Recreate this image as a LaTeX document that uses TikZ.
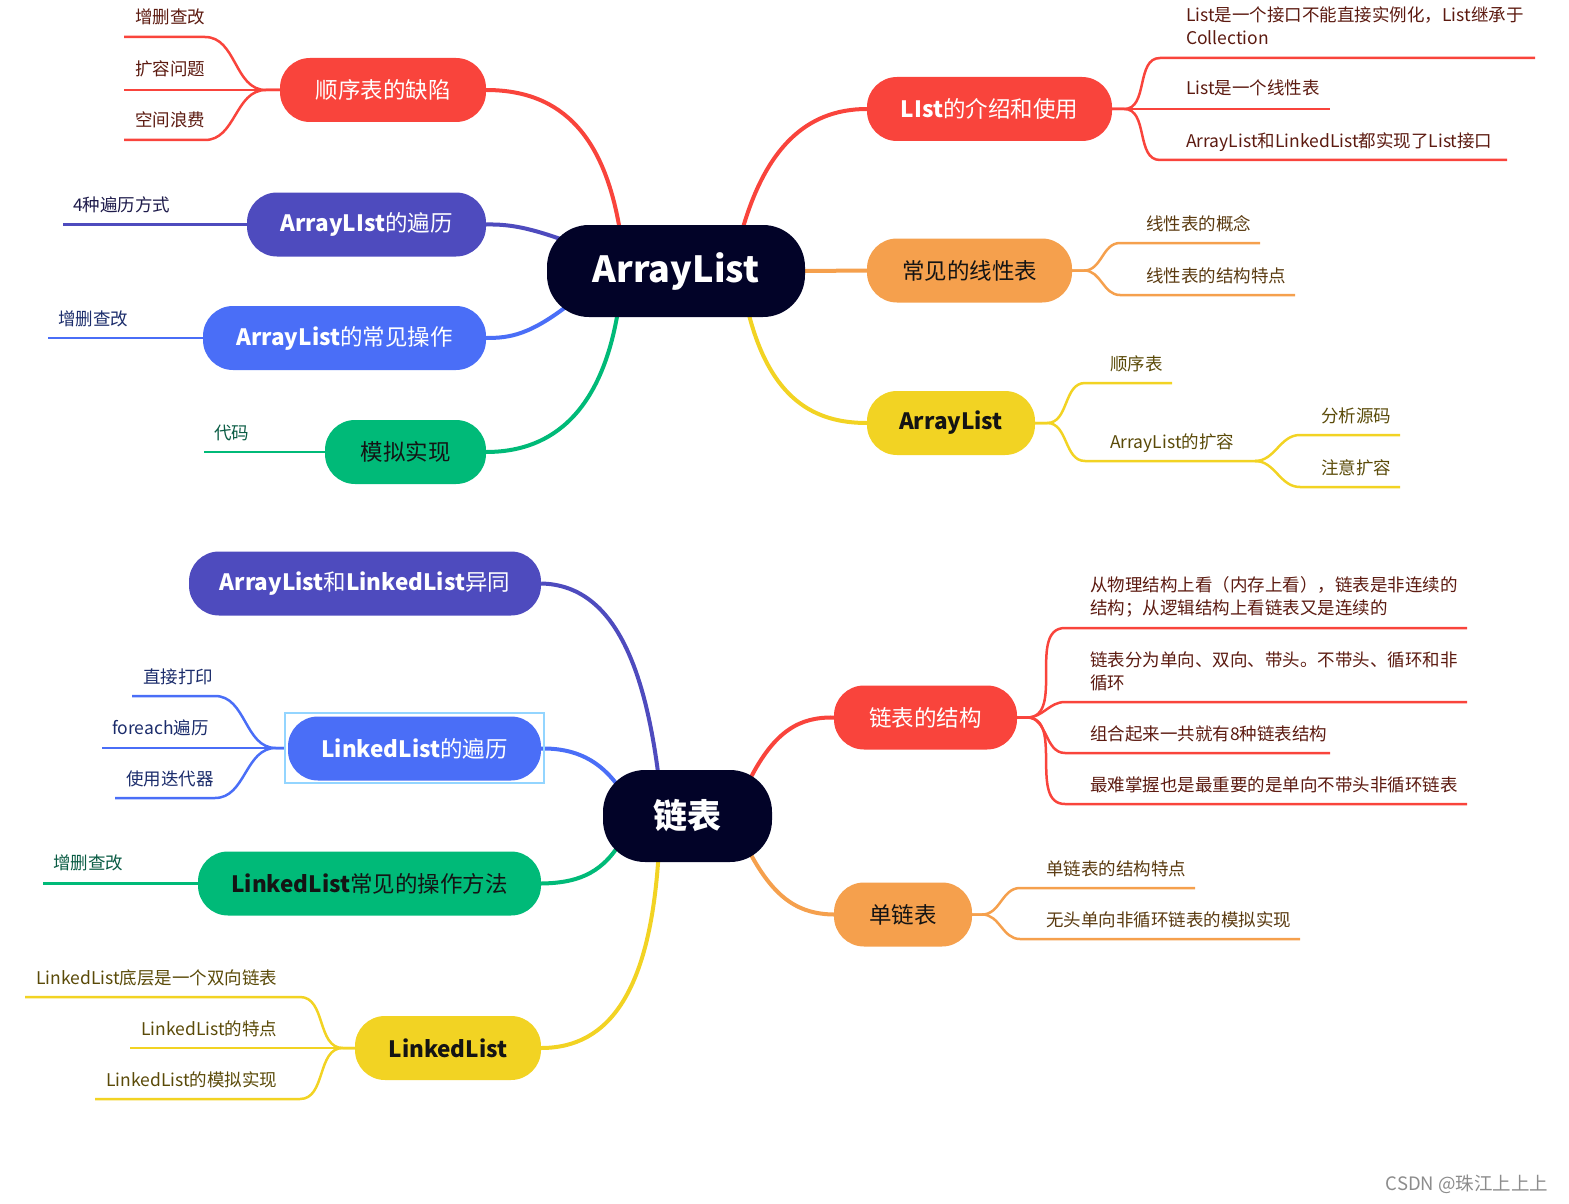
\documentclass[tikz,border=0pt]{standalone}
\usepackage{fontspec}
\setmainfont{Noto Sans CJK SC}
\usetikzlibrary{calc,backgrounds}
\definecolor{cred}{HTML}{F9443C}
\definecolor{cpur}{HTML}{4E4BBE}
\definecolor{cblu}{HTML}{4A6EF7}
\definecolor{cgrn}{HTML}{00BA78}
\definecolor{corg}{HTML}{F5A04D}
\definecolor{cyel}{HTML}{F2D323}
\definecolor{cdark}{HTML}{020328}
\definecolor{csel}{HTML}{93D5FF}
\definecolor{tred}{HTML}{5C1A10}
\definecolor{tpur}{HTML}{1E1B4B}
\definecolor{tblu}{HTML}{1B2C6B}
\definecolor{tgrn}{HTML}{0A5C44}
\definecolor{torg}{HTML}{5A3A10}
\definecolor{tyel}{HTML}{5A4A08}
\definecolor{tdark}{HTML}{141414}
\begin{document}
\begin{tikzpicture}[x=1pt,y=-1pt,
  hub/.style={fill=cdark, rounded corners=42pt, text=white, inner sep=0pt, minimum height=92pt},
  topic/.style={rounded corners=30pt, minimum height=64pt, inner sep=0pt, font=\fontsize{22.5}{26}\selectfont},
  leaf/.style={anchor=base west, inner sep=0pt, font=\fontsize{17.5}{23}\selectfont},
  conn/.style={line width=4pt},
  twig/.style={line width=2.5pt}]
\useasboundingbox (0,0) rectangle (1569,1204);

% hubs
\node[hub, minimum width=258pt, font=\fontsize{36}{42}\selectfont\bfseries] (A) at (676,271) {ArrayList};
\node[hub, minimum width=169pt, font=\fontsize{34}{40}\selectfont\bfseries] (L) at (687.5,816) {链表};

% ArrayList topics
\node[topic, fill=cred, text=white, minimum width=206pt] (b1) at (383,90) {顺序表的缺陷};
\node[topic, fill=cpur, text=white, minimum width=239pt] (b2) at (366.5,224.5) {{\bfseries ArrayLIst}的遍历};
\node[topic, fill=cblu, text=white, minimum width=283pt] (b3) at (344.5,338) {{\bfseries ArrayList}的常见操作};
\node[topic, fill=cgrn, text=tdark, minimum width=161pt] (b4) at (405.5,452) {模拟实现};
\node[topic, fill=cred, text=white, minimum width=245pt] (r1) at (989.5,109) {{\bfseries LIst}的介绍和使用};
\node[topic, fill=corg, text=tdark, minimum width=205pt] (r2) at (969.5,270.5) {常见的线性表};
\node[topic, fill=cyel, text=tdark, minimum width=168pt] (r3) at (951,423) {\bfseries ArrayList};

% 链表 topics
\node[topic, fill=cpur, text=white, minimum width=352pt] (p1) at (365,583.5) {{\bfseries ArrayList}和{\bfseries LinkedList}异同};
\node[topic, fill=cblu, text=white, minimum width=253pt] (p2) at (414.5,748.5) {{\bfseries LinkedList}的遍历};
\node[draw=csel, line width=2.5pt, minimum width=259pt, minimum height=70pt, inner sep=0pt] (sel) at (414.5,748) {};
\node[topic, fill=cgrn, text=tdark, minimum width=343pt] (p3) at (369.5,883.5) {{\bfseries LinkedList}常见的操作方法};
\node[topic, fill=cyel, text=tdark, minimum width=186pt] (p4) at (448,1048) {\bfseries LinkedList};
\node[topic, fill=cred, text=white, minimum width=183pt] (q1) at (925.5,717.5) {链表的结构};
\node[topic, fill=corg, text=tdark, minimum width=138pt] (q2) at (903,914.5) {单链表};

% leaves
\node[leaf, text=tred] (b1a) at (135,24) {增删查改};
\node[leaf, text=tred] (b1b) at (135,76) {扩容问题};
\node[leaf, text=tred] (b1c) at (135,127) {空间浪费};
\node[leaf, text=tpur] (b2a) at (73,211) {4种遍历方式};
\node[leaf, text=tblu] (b3a) at (58,325) {增删查改};
\node[leaf, text=tgrn] (b4a) at (214,439) {代码};
\node[leaf, text=tred] (r1a) at (1186,45) {\parbox[b]{400pt}{List是一个接口不能直接实例化，List继承于\\Collection}};
\node[leaf, text=tred] (r1b) at (1186,95) {List是一个线性表};
\node[leaf, text=tred] (r1c) at (1186,147) {ArrayList和LinkedList都实现了List接口};
\node[leaf, text=torg] (r2a) at (1146,230) {线性表的概念};
\node[leaf, text=torg] (r2b) at (1146,282) {线性表的结构特点};
\node[leaf, text=tyel] (r3a) at (1110,370) {顺序表};
\node[leaf, text=tyel] (r3b) at (1110,448) {ArrayList的扩容};
\node[leaf, text=tyel] (r3c) at (1321,422) {分析源码};
\node[leaf, text=tyel] (r3d) at (1321,474) {注意扩容};

\node[leaf, text=tblu] (p2a) at (143,683) {直接打印};
\node[leaf, text=tblu] (p2b) at (112,734) {foreach遍历};
\node[leaf, text=tblu] (p2c) at (126,785) {使用迭代器};
\node[leaf, text=tgrn] (p3a) at (53,869) {增删查改};
\node[leaf, text=tyel] (p4a) at (36,984) {LinkedList底层是一个双向链表};
\node[leaf, text=tyel] (p4b) at (141,1035) {LinkedList的特点};
\node[leaf, text=tyel] (p4c) at (106,1086) {LinkedList的模拟实现};
\node[leaf, text=tred] (q1a) at (1090,614) {\parbox[b]{400pt}{从物理结构上看（内存上看），链表是非连续的\\结构；从逻辑结构上看链表又是连续的}};
\node[leaf, text=tred] (q1b) at (1090,689) {\parbox[b]{400pt}{链表分为单向、双向、带头。不带头、循环和非\\循环}};
\node[leaf, text=tred] (q1c) at (1090,740) {组合起来一共就有8种链表结构};
\node[leaf, text=tred] (q1d) at (1090,791) {最难掌握也是最重要的是单向不带头非循环链表};
\node[leaf, text=torg] (q2a) at (1046,875) {单链表的结构特点};
\node[leaf, text=torg] (q2b) at (1046,926) {无头单向非循环链表的模拟实现};

\node[anchor=east, text=black!45, font=\fontsize{18.5}{21}\selectfont] (wm) at (1552,1184) {CSDN @珠江上上上};

\begin{scope}[on background layer]
% main connectors ArrayList
\draw[conn,cred] ($(A)+(-56,-40)$) .. controls (605,140) and (565,90) .. (b1.east);
\draw[conn,cpur] ($(A)+(-110,-30)$) .. controls (530,228) and (510,224) .. (b2.east);
\draw[conn,cblu] ($(A)+(-105,32)$) .. controls (530,335) and (510,338) .. (b3.east);
\draw[conn,cgrn] ($(A)+(-58,40)$) .. controls (600,420) and (545,452) .. (b4.east);
\draw[conn,cred] ($(A)+(66,-40)$) .. controls (765,150) and (805,109) .. (r1.west);
\draw[conn,corg] (A.east) -- (r2.west);
\draw[conn,cyel] ($(A)+(72,40)$) .. controls (770,400) and (815,423) .. (r3.west);
% main connectors 链表
\draw[conn,cpur] ($(L)+(-29,-40)$) .. controls (645,670) and (615,585) .. (p1.east);
\draw[conn,cblu] ($(L)+(-68,-28)$) .. controls (600,760) and (575,748) .. (p2.east);
\draw[conn,cgrn] ($(L)+(-68,28)$) .. controls (600,875) and (575,883) .. (p3.east);
\draw[conn,cyel] ($(L)+(-29,40)$) .. controls (650,990) and (610,1048) .. (p4.east);
\draw[conn,cred] ($(L)+(62,-36)$) .. controls (775,730) and (800,717) .. (q1.west);
\draw[conn,corg] ($(L)+(62,36)$) .. controls (775,900) and (800,914) .. (q2.west);

% leaf lines
\draw[twig,cred] (b1.west) -- ++(-14,0) to[out=180,in=0] (205,37) -- (124,37);
\draw[twig,cred] (b1.west) -- (124,90);
\draw[twig,cred] (b1.west) -- ++(-14,0) to[out=180,in=0] (205,140) -- (124,140);
\draw[twig,cpur] (b2.west) -- (63,224.5);
\draw[twig,cblu] (b3.west) -- (48,338);
\draw[twig,cgrn] (b4.west) -- (204,452);

\draw[twig,cred] (r1.east) -- ++(12,0) to[out=0,in=180] (1160,58) -- (1535,58);
\draw[twig,cred] (r1.east) -- (1330,109);
\draw[twig,cred] (r1.east) -- ++(12,0) to[out=0,in=180] (1160,160) -- (1507,160);
\draw[twig,corg] (r2.east) -- ++(12,0) to[out=0,in=180] (1120,243) -- (1260,243);
\draw[twig,corg] (r2.east) -- ++(12,0) to[out=0,in=180] (1120,295) -- (1295,295);
\draw[twig,cyel] (r3.east) -- ++(12,0) to[out=0,in=180] (1085,383) -- (1172,383);
\draw[twig,cyel] (r3.east) -- ++(12,0) to[out=0,in=180] (1085,461) -- (1260,461);
\draw[twig,cyel] (1255,461) to[out=0,in=180] (1300,435) -- (1400,435);
\draw[twig,cyel] (1255,461) to[out=0,in=180] (1300,487) -- (1400,487);

\draw[twig,cblu] (sel.west) -- ++(-8,0) to[out=180,in=0] (215,696) -- (132,696);
\draw[twig,cblu] (sel.west) -- (102,748);
\draw[twig,cblu] (sel.west) -- ++(-8,0) to[out=180,in=0] (215,798) -- (115,798);
\draw[twig,cgrn] (p3.west) -- (43,883.5);
\draw[twig,cyel] (p4.west) -- ++(-12,0) to[out=180,in=0] (300,997) -- (25,997);
\draw[twig,cyel] (p4.west) -- (130,1048);
\draw[twig,cyel] (p4.west) -- ++(-12,0) to[out=180,in=0] (300,1099) -- (95,1099);

\draw[twig,cred] (q1.east) -- ++(10,0) to[out=0,in=180] (1065,628) -- (1467,628);
\draw[twig,cred] (q1.east) -- ++(10,0) to[out=0,in=180] (1065,702) -- (1467,702);
\draw[twig,cred] (q1.east) -- ++(10,0) to[out=0,in=180] (1065,753) -- (1330,753);
\draw[twig,cred] (q1.east) -- ++(10,0) to[out=0,in=180] (1065,804) -- (1467,804);
\draw[twig,corg] (q2.east) -- ++(10,0) to[out=0,in=180] (1020,888) -- (1195,888);
\draw[twig,corg] (q2.east) -- ++(10,0) to[out=0,in=180] (1020,939) -- (1300,939);
\end{scope}
\end{tikzpicture}
\end{document}
